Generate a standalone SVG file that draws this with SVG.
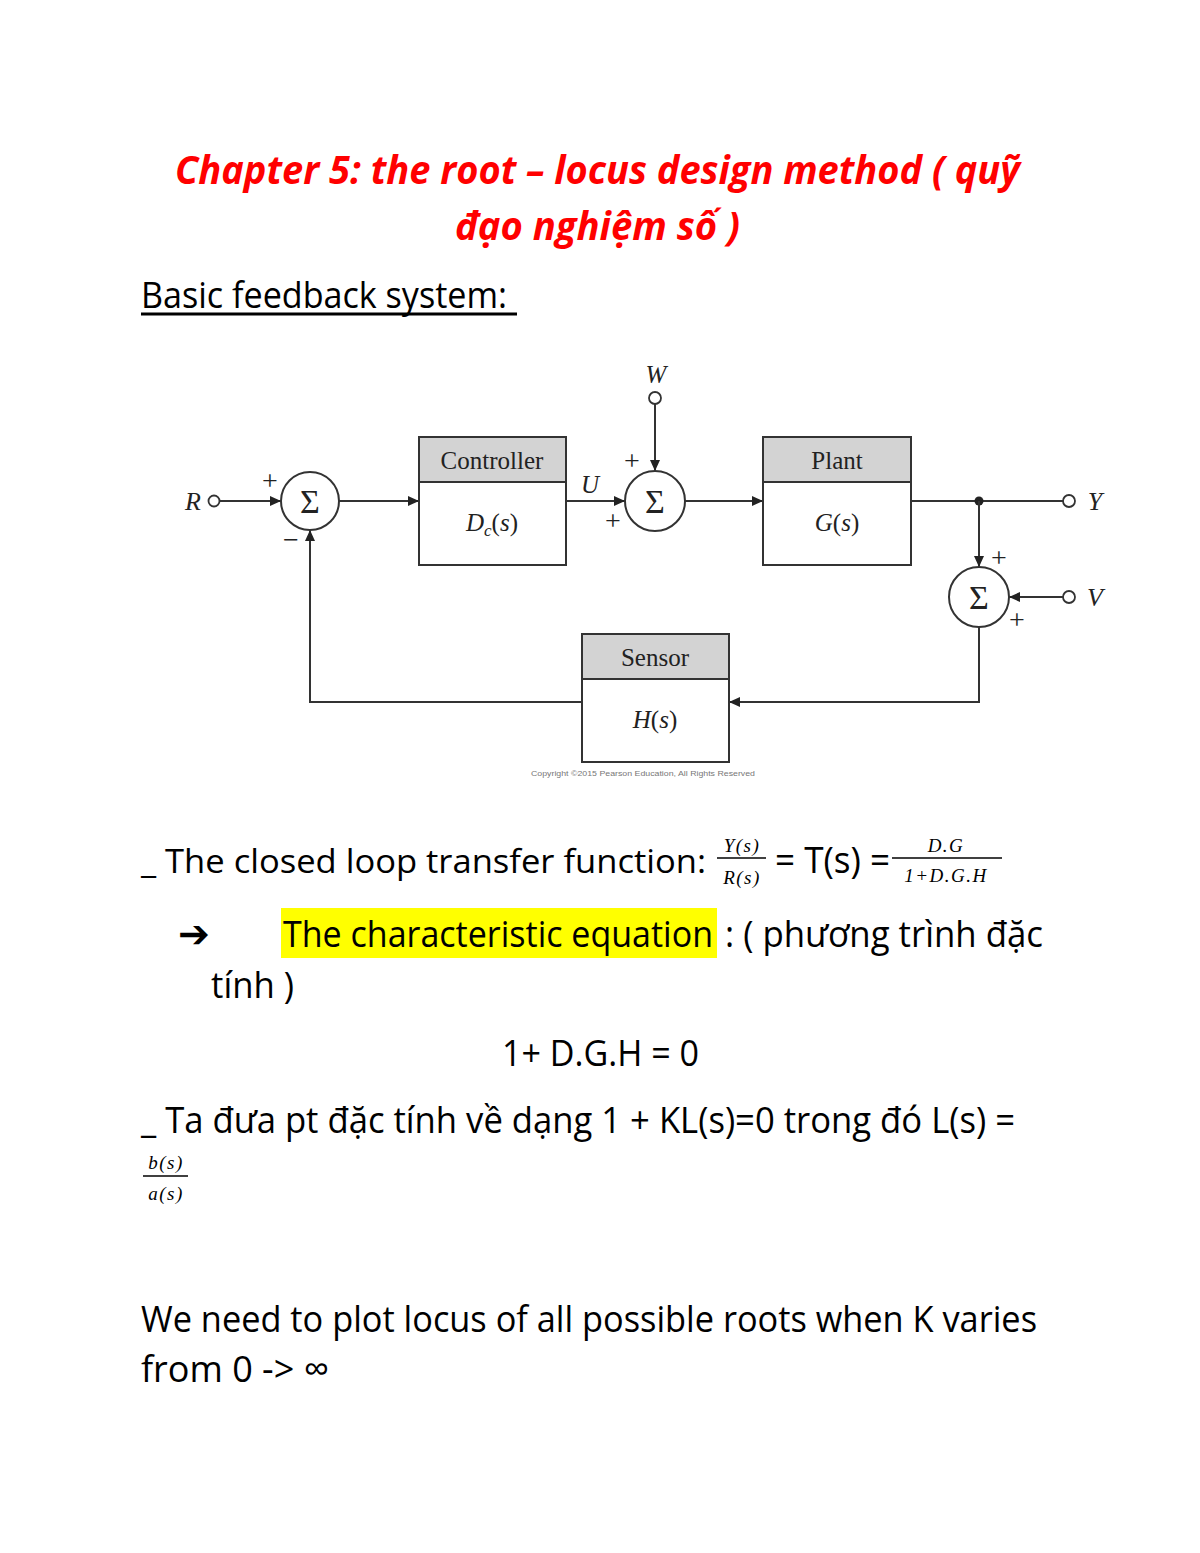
<svg xmlns="http://www.w3.org/2000/svg" width="1200" height="1553" viewBox="0 0 1200 1553">
<defs>
<marker id="arr" markerUnits="userSpaceOnUse" markerWidth="13" markerHeight="11" refX="11" refY="5" orient="auto">
<path d="M0,0 L11,5 L0,10 z" fill="#222"/>
</marker>
</defs>
<style>
.doc{font-family:"Open Sans","Noto Sans",sans-serif;font-size:37px;fill:#000}
.title{font-family:"Open Sans","Noto Sans",sans-serif;font-size:39px;font-weight:bold;font-style:italic;fill:#ff0000}
.ser{font-family:"Liberation Serif",serif;fill:#222}
.it{font-style:italic}
.box{fill:#fff;stroke:#333;stroke-width:2}
.hdr{fill:#d3d3d3;stroke:#333;stroke-width:2}
.ln{fill:none;stroke:#333;stroke-width:2}
.sum{fill:#fff;stroke:#333;stroke-width:2}
.port{fill:#fff;stroke:#333;stroke-width:1.8}
.math{font-family:"Liberation Serif",serif;font-style:italic;font-size:19px;letter-spacing:1.5px;fill:#000}
</style>
<rect width="1200" height="1553" fill="#fff"/>

<g id="title">
<text class="title" x="175" y="184" textLength="845" lengthAdjust="spacingAndGlyphs">Chapter 5: the root – locus design method ( quỹ</text>
<text class="title" x="455" y="240" textLength="285" lengthAdjust="spacingAndGlyphs">đạo nghiệm số )</text>
</g>
<g id="heading">
<text class="doc" x="141" y="308" textLength="366" lengthAdjust="spacingAndGlyphs">Basic feedback system:</text>
<line x1="141" y1="314" x2="517" y2="314" stroke="#000" stroke-width="3"/>
</g>

<g id="connectors">
<line class="ln" x1="219" y1="501" x2="281" y2="501" marker-end="url(#arr)"/>
<line class="ln" x1="339" y1="501" x2="419" y2="501" marker-end="url(#arr)"/>
<line class="ln" x1="566" y1="501" x2="625" y2="501" marker-end="url(#arr)"/>
<line class="ln" x1="655" y1="404" x2="655" y2="471" marker-end="url(#arr)"/>
<line class="ln" x1="685" y1="501" x2="763" y2="501" marker-end="url(#arr)"/>
<line class="ln" x1="911" y1="501" x2="1063" y2="501"/>
<circle cx="979" cy="501" r="4.5" fill="#222"/>
<line class="ln" x1="979" y1="501" x2="979" y2="567" marker-end="url(#arr)"/>
<line class="ln" x1="1063" y1="597" x2="1009" y2="597" marker-end="url(#arr)"/>
<polyline class="ln" points="979,627 979,702 729,702" marker-end="url(#arr)"/>
<polyline class="ln" points="582,702 310,702 310,530" marker-end="url(#arr)"/>
</g>

<g id="R">
<circle class="port" cx="214" cy="501" r="5.5"/>
<text class="ser it" x="193" y="510" font-size="26" text-anchor="middle">R</text>
</g>
<g id="sum1">
<circle class="sum" cx="310" cy="501" r="29"/>
<text class="ser" x="310" y="513" font-size="34" text-anchor="middle">Σ</text>
<text class="ser" x="270" y="490" font-size="28" text-anchor="middle">+</text>
<text class="ser" x="291" y="549" font-size="28" text-anchor="middle">−</text>
</g>
<g id="controller">
<rect class="box" x="419" y="437" width="147" height="128"/>
<rect class="hdr" x="419" y="437" width="147" height="45"/>
<text class="ser" x="492" y="469" font-size="25" text-anchor="middle">Controller</text>
<text class="ser" x="492" y="531" font-size="25" text-anchor="middle"><tspan class="it">D</tspan><tspan class="it" font-size="17" dy="5">c</tspan><tspan dy="-5">(</tspan><tspan class="it">s</tspan>)</text>
</g>
<g id="U">
<text class="ser it" x="590" y="493" font-size="25" text-anchor="middle">U</text>
</g>
<g id="W">
<text class="ser it" x="656" y="383" font-size="25" text-anchor="middle">W</text>
<circle class="port" cx="655" cy="398" r="6"/>
</g>
<g id="sum2">
<circle class="sum" cx="655" cy="501" r="30"/>
<text class="ser" x="655" y="513" font-size="34" text-anchor="middle">Σ</text>
<text class="ser" x="632" y="470" font-size="28" text-anchor="middle" fill="#999">+</text>
<text class="ser" x="613" y="530" font-size="28" text-anchor="middle" fill="#999">+</text>
</g>
<g id="plant">
<rect class="box" x="763" y="437" width="148" height="128"/>
<rect class="hdr" x="763" y="437" width="148" height="45"/>
<text class="ser" x="837" y="469" font-size="25" text-anchor="middle">Plant</text>
<text class="ser" x="837" y="531" font-size="25" text-anchor="middle"><tspan class="it">G</tspan>(<tspan class="it">s</tspan>)</text>
</g>
<g id="Y">
<circle class="port" cx="1069" cy="501" r="6"/>
<text class="ser it" x="1095" y="510" font-size="26" text-anchor="middle">Y</text>
</g>
<g id="sum3">
<circle class="sum" cx="979" cy="597" r="30"/>
<text class="ser" x="979" y="609" font-size="34" text-anchor="middle">Σ</text>
<text class="ser" x="999" y="567" font-size="28" text-anchor="middle">+</text>
<text class="ser" x="1017" y="629" font-size="28" text-anchor="middle" fill="#999">+</text>
</g>
<g id="V">
<circle class="port" cx="1069" cy="597" r="6"/>
<text class="ser it" x="1095" y="606" font-size="26" text-anchor="middle">V</text>
</g>
<g id="sensor">
<rect class="box" x="582" y="634" width="147" height="128"/>
<rect class="hdr" x="582" y="634" width="147" height="45"/>
<text class="ser" x="655" y="666" font-size="25" text-anchor="middle">Sensor</text>
<text class="ser" x="655" y="728" font-size="25" text-anchor="middle"><tspan class="it">H</tspan>(<tspan class="it">s</tspan>)</text>
</g>
<g id="copyright">
<text x="643" y="776" font-family="Liberation Sans,sans-serif" font-size="8" fill="#777" text-anchor="middle" textLength="224" lengthAdjust="spacingAndGlyphs">Copyright ©2015 Pearson Education, All Rights Reserved</text>
</g>

<g id="tf">
<text class="doc" x="141" y="873" style="font-size:33px" textLength="565" lengthAdjust="spacingAndGlyphs">_ The closed loop transfer function:</text>
<text class="math" x="742" y="852" text-anchor="middle">Y(s)</text>
<line x1="717" y1="858" x2="766" y2="858" stroke="#000" stroke-width="1.5"/>
<text class="math" x="742" y="884" text-anchor="middle">R(s)</text>
<text class="doc" x="775" y="873" textLength="115" lengthAdjust="spacingAndGlyphs">= T(s) =</text>
<text class="math" x="946" y="852" text-anchor="middle">D.G</text>
<line x1="892" y1="858" x2="1002" y2="858" stroke="#000" stroke-width="1.5"/>
<text class="math" x="946" y="882" text-anchor="middle">1+D.G.H</text>
</g>

<g id="char">
<text x="178" y="947" font-family="DejaVu Sans,sans-serif" font-size="38" font-weight="bold" fill="#000">➔</text>
<rect x="281" y="908" width="436" height="50" fill="#ffff00"/>
<text class="doc" x="283" y="947" textLength="430" lengthAdjust="spacingAndGlyphs">The characteristic equation</text>
<text class="doc" x="725" y="947" textLength="318" lengthAdjust="spacingAndGlyphs">: ( phương trình đặc</text>
<text class="doc" x="211" y="998" textLength="83" lengthAdjust="spacingAndGlyphs">tính )</text>
<text class="doc" x="502" y="1066" textLength="197" lengthAdjust="spacingAndGlyphs">1+ D.G.H = 0</text>
</g>

<g id="ta">
<text class="doc" x="141" y="1133" textLength="874" lengthAdjust="spacingAndGlyphs">_ Ta đưa pt đặc tính về dạng 1 + KL(s)=0 trong đó L(s) =</text>
<text class="math" x="166" y="1169" text-anchor="middle">b(s)</text>
<line x1="143" y1="1176" x2="188" y2="1176" stroke="#000" stroke-width="1.5"/>
<text class="math" x="166" y="1200" text-anchor="middle">a(s)</text>
</g>

<g id="locus">
<text class="doc" x="141" y="1332" textLength="896" lengthAdjust="spacingAndGlyphs">We need to plot locus of all possible roots when K varies</text>
<text class="doc" x="141" y="1382" textLength="188" lengthAdjust="spacingAndGlyphs">from 0 -&gt; ∞</text>
</g>
</svg>
